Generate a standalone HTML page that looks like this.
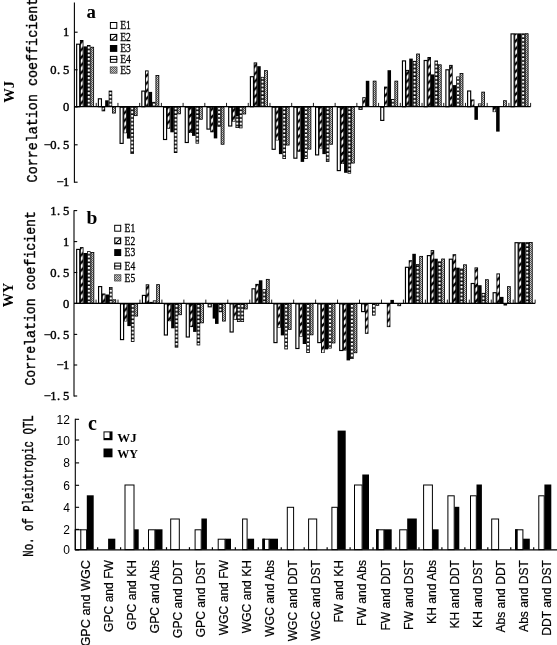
<!DOCTYPE html>
<html><head><meta charset="utf-8"><title>Figure</title>
<style>
html,body{margin:0;padding:0;background:#fff;}
svg{display:block;}
.mono{font-family:"Liberation Mono",monospace;}
.sans{font-family:"Liberation Sans",sans-serif;}
.serif{font-family:"Liberation Serif",serif;}
.bs{font-family:"Liberation Serif",serif;font-weight:bold;}
.tk{stroke:#000;stroke-width:0.4;}
.ml{stroke:#000;stroke-width:0.4;}
.lg{stroke:#000;stroke-width:0.3;}
.xl{stroke:#000;stroke-width:0.2;}
</style></head><body>
<svg width="557" height="645" viewBox="0 0 557 645">
<defs>
<pattern id="p2" patternUnits="userSpaceOnUse" width="7.6" height="7.6">
<rect width="7.6" height="7.6" fill="#000"/>
<path d="M-1.9,7.6 L7.6,-1.9 M-1.9,15.2 L15.2,-1.9 M-1.9,0 L0,-1.9" stroke="#fff" stroke-width="3.1"/>
</pattern>
<pattern id="p4" patternUnits="userSpaceOnUse" width="10" height="3.8">
<rect width="10" height="3.8" fill="#000"/>
<rect x="0" y="0.9" width="10" height="2.3" fill="#fff"/>
</pattern>
<pattern id="p5" patternUnits="userSpaceOnUse" width="2" height="2">
<rect width="2" height="2" fill="#cdcdcd"/>
<rect x="0" y="0" width="1" height="1" fill="#5c5c5c"/>
<rect x="1" y="1" width="1" height="1" fill="#5c5c5c"/>
</pattern>
</defs>
<rect width="557" height="645" fill="#fff"/>

<g id="barsA">
<rect x="76.65" y="44.20" width="3.07" height="62.50" fill="#fff" stroke="#000" stroke-width="1.15"/>
<rect x="79.92" y="40.00" width="3.52" height="66.70" fill="#000"/>
<rect x="80.82" y="41.00" width="1.82" height="65.20" fill="url(#p2)"/>
<rect x="83.44" y="46.40" width="3.52" height="60.30" fill="#000"/>
<rect x="86.96" y="45.00" width="3.52" height="61.70" fill="#000"/>
<rect x="87.76" y="45.80" width="2.02" height="60.10" fill="url(#p4)"/>
<rect x="90.48" y="46.90" width="3.52" height="59.80" fill="url(#p5)"/>
<rect x="90.83" y="47.25" width="2.82" height="59.30" fill="none" stroke="#000" stroke-width="0.8"/>
<rect x="98.37" y="98.80" width="3.07" height="7.90" fill="#fff" stroke="#000" stroke-width="1.15"/>
<rect x="101.64" y="106.70" width="3.52" height="4.60" fill="#000"/>
<rect x="102.54" y="107.70" width="1.82" height="3.10" fill="url(#p2)"/>
<rect x="105.16" y="100.30" width="3.52" height="6.40" fill="#000"/>
<rect x="108.68" y="90.60" width="3.52" height="16.10" fill="#000"/>
<rect x="109.48" y="91.40" width="2.02" height="14.50" fill="url(#p4)"/>
<rect x="112.20" y="106.70" width="3.52" height="6.50" fill="url(#p5)"/>
<rect x="112.55" y="107.05" width="2.82" height="6.00" fill="none" stroke="#000" stroke-width="0.8"/>
<rect x="120.09" y="107.20" width="3.07" height="36.20" fill="#fff" stroke="#000" stroke-width="1.15"/>
<rect x="123.36" y="106.70" width="3.52" height="26.50" fill="#000"/>
<rect x="124.26" y="107.70" width="1.82" height="25.00" fill="url(#p2)"/>
<rect x="126.88" y="106.70" width="3.52" height="31.90" fill="#000"/>
<rect x="130.40" y="106.70" width="3.52" height="47.20" fill="#000"/>
<rect x="131.20" y="107.50" width="2.02" height="45.60" fill="url(#p4)"/>
<rect x="133.92" y="106.70" width="3.52" height="9.10" fill="url(#p5)"/>
<rect x="134.27" y="107.05" width="2.82" height="8.60" fill="none" stroke="#000" stroke-width="0.8"/>
<rect x="141.81" y="91.10" width="3.07" height="15.60" fill="#fff" stroke="#000" stroke-width="1.15"/>
<rect x="145.08" y="70.40" width="3.52" height="36.30" fill="#000"/>
<rect x="145.98" y="71.40" width="1.82" height="34.80" fill="url(#p2)"/>
<rect x="148.60" y="91.90" width="3.52" height="14.80" fill="#000"/>
<rect x="152.12" y="101.90" width="3.52" height="4.80" fill="#000"/>
<rect x="152.92" y="102.70" width="2.02" height="3.20" fill="url(#p4)"/>
<rect x="155.64" y="75.20" width="3.52" height="31.50" fill="url(#p5)"/>
<rect x="155.99" y="75.55" width="2.82" height="31.00" fill="none" stroke="#000" stroke-width="0.8"/>
<rect x="163.53" y="107.20" width="3.07" height="32.30" fill="#fff" stroke="#000" stroke-width="1.15"/>
<rect x="166.80" y="106.70" width="3.52" height="22.00" fill="#000"/>
<rect x="167.70" y="107.70" width="1.82" height="20.50" fill="url(#p2)"/>
<rect x="170.32" y="106.70" width="3.52" height="25.60" fill="#000"/>
<rect x="173.84" y="106.70" width="3.52" height="46.30" fill="#000"/>
<rect x="174.64" y="107.50" width="2.02" height="44.70" fill="url(#p4)"/>
<rect x="177.36" y="106.70" width="3.52" height="7.30" fill="url(#p5)"/>
<rect x="177.71" y="107.05" width="2.82" height="6.80" fill="none" stroke="#000" stroke-width="0.8"/>
<rect x="185.25" y="107.20" width="3.07" height="35.30" fill="#fff" stroke="#000" stroke-width="1.15"/>
<rect x="188.52" y="106.70" width="3.52" height="26.30" fill="#000"/>
<rect x="189.42" y="107.70" width="1.82" height="24.80" fill="url(#p2)"/>
<rect x="192.04" y="106.70" width="3.52" height="29.20" fill="#000"/>
<rect x="195.56" y="106.70" width="3.52" height="36.90" fill="#000"/>
<rect x="196.36" y="107.50" width="2.02" height="35.30" fill="url(#p4)"/>
<rect x="199.08" y="106.70" width="3.52" height="12.70" fill="url(#p5)"/>
<rect x="199.43" y="107.05" width="2.82" height="12.20" fill="none" stroke="#000" stroke-width="0.8"/>
<rect x="206.97" y="107.20" width="3.07" height="21.90" fill="#fff" stroke="#000" stroke-width="1.15"/>
<rect x="210.24" y="106.70" width="3.52" height="25.60" fill="#000"/>
<rect x="211.14" y="107.70" width="1.82" height="24.10" fill="url(#p2)"/>
<rect x="213.76" y="106.70" width="3.52" height="31.70" fill="#000"/>
<rect x="217.28" y="106.70" width="3.52" height="20.00" fill="#000"/>
<rect x="218.08" y="107.50" width="2.02" height="18.40" fill="url(#p4)"/>
<rect x="220.80" y="106.70" width="3.52" height="37.70" fill="url(#p5)"/>
<rect x="221.15" y="107.05" width="2.82" height="37.20" fill="none" stroke="#000" stroke-width="0.8"/>
<rect x="228.69" y="107.20" width="3.07" height="18.80" fill="#fff" stroke="#000" stroke-width="1.15"/>
<rect x="231.96" y="106.70" width="3.52" height="15.00" fill="#000"/>
<rect x="232.86" y="107.70" width="1.82" height="13.50" fill="url(#p2)"/>
<rect x="235.48" y="106.70" width="3.52" height="21.30" fill="#000"/>
<rect x="236.28" y="107.50" width="2.02" height="19.70" fill="url(#p4)"/>
<rect x="235.48" y="106.70" width="3.52" height="9.60" fill="#000"/>
<rect x="239.00" y="106.70" width="3.52" height="21.60" fill="#000"/>
<rect x="239.80" y="107.50" width="2.02" height="20.00" fill="url(#p4)"/>
<rect x="242.52" y="106.70" width="3.52" height="7.40" fill="url(#p5)"/>
<rect x="242.87" y="107.05" width="2.82" height="6.90" fill="none" stroke="#000" stroke-width="0.8"/>
<rect x="250.41" y="76.70" width="3.07" height="30.00" fill="#fff" stroke="#000" stroke-width="1.15"/>
<rect x="253.68" y="62.40" width="3.52" height="44.30" fill="#000"/>
<rect x="254.58" y="63.40" width="1.82" height="42.80" fill="url(#p2)"/>
<rect x="257.20" y="66.20" width="3.52" height="40.50" fill="#000"/>
<rect x="260.72" y="76.90" width="3.52" height="29.80" fill="#000"/>
<rect x="261.52" y="77.70" width="2.02" height="28.20" fill="url(#p4)"/>
<rect x="264.24" y="70.30" width="3.52" height="36.40" fill="url(#p5)"/>
<rect x="264.59" y="70.65" width="2.82" height="35.90" fill="none" stroke="#000" stroke-width="0.8"/>
<rect x="272.13" y="107.20" width="3.07" height="42.10" fill="#fff" stroke="#000" stroke-width="1.15"/>
<rect x="275.40" y="106.70" width="3.52" height="33.70" fill="#000"/>
<rect x="276.30" y="107.70" width="1.82" height="32.20" fill="url(#p2)"/>
<rect x="278.92" y="106.70" width="3.52" height="47.40" fill="#000"/>
<rect x="282.44" y="106.70" width="3.52" height="52.30" fill="#000"/>
<rect x="283.24" y="107.50" width="2.02" height="50.70" fill="url(#p4)"/>
<rect x="285.96" y="106.70" width="3.52" height="38.50" fill="url(#p5)"/>
<rect x="286.31" y="107.05" width="2.82" height="38.00" fill="none" stroke="#000" stroke-width="0.8"/>
<rect x="293.85" y="107.20" width="3.07" height="51.00" fill="#fff" stroke="#000" stroke-width="1.15"/>
<rect x="297.12" y="106.70" width="3.52" height="45.00" fill="#000"/>
<rect x="298.02" y="107.70" width="1.82" height="43.50" fill="url(#p2)"/>
<rect x="300.64" y="106.70" width="3.52" height="55.20" fill="#000"/>
<rect x="304.16" y="106.70" width="3.52" height="52.30" fill="#000"/>
<rect x="304.96" y="107.50" width="2.02" height="50.70" fill="url(#p4)"/>
<rect x="307.68" y="106.70" width="3.52" height="42.60" fill="url(#p5)"/>
<rect x="308.03" y="107.05" width="2.82" height="42.10" fill="none" stroke="#000" stroke-width="0.8"/>
<rect x="315.57" y="107.20" width="3.07" height="47.70" fill="#fff" stroke="#000" stroke-width="1.15"/>
<rect x="318.84" y="106.70" width="3.52" height="41.80" fill="#000"/>
<rect x="319.74" y="107.70" width="1.82" height="40.30" fill="url(#p2)"/>
<rect x="322.36" y="106.70" width="3.52" height="47.40" fill="#000"/>
<rect x="325.88" y="106.70" width="3.52" height="55.20" fill="#000"/>
<rect x="326.68" y="107.50" width="2.02" height="53.60" fill="url(#p4)"/>
<rect x="329.40" y="106.70" width="3.52" height="37.70" fill="url(#p5)"/>
<rect x="329.75" y="107.05" width="2.82" height="37.20" fill="none" stroke="#000" stroke-width="0.8"/>
<rect x="337.29" y="107.20" width="3.07" height="63.40" fill="#fff" stroke="#000" stroke-width="1.15"/>
<rect x="340.56" y="106.70" width="3.52" height="57.30" fill="#000"/>
<rect x="341.46" y="107.70" width="1.82" height="55.80" fill="url(#p2)"/>
<rect x="344.08" y="106.70" width="3.52" height="66.10" fill="#000"/>
<rect x="347.60" y="106.70" width="3.52" height="66.90" fill="#000"/>
<rect x="348.40" y="107.50" width="2.02" height="65.30" fill="url(#p4)"/>
<rect x="351.12" y="106.70" width="3.52" height="56.50" fill="url(#p5)"/>
<rect x="351.47" y="107.05" width="2.82" height="56.00" fill="none" stroke="#000" stroke-width="0.8"/>
<rect x="359.01" y="107.20" width="3.07" height="2.10" fill="#fff" stroke="#000" stroke-width="1.15"/>
<rect x="362.28" y="97.20" width="3.52" height="9.50" fill="#000"/>
<rect x="363.18" y="98.20" width="1.82" height="8.00" fill="url(#p2)"/>
<rect x="365.80" y="80.80" width="3.52" height="25.90" fill="#000"/>
<rect x="372.84" y="80.80" width="3.52" height="25.90" fill="url(#p5)"/>
<rect x="373.19" y="81.15" width="2.82" height="25.40" fill="none" stroke="#000" stroke-width="0.8"/>
<rect x="380.73" y="107.20" width="3.07" height="13.20" fill="#fff" stroke="#000" stroke-width="1.15"/>
<rect x="384.00" y="86.60" width="3.52" height="20.10" fill="#000"/>
<rect x="384.90" y="87.60" width="1.82" height="18.60" fill="url(#p2)"/>
<rect x="387.52" y="70.20" width="3.52" height="36.50" fill="#000"/>
<rect x="391.04" y="99.00" width="3.52" height="7.70" fill="#000"/>
<rect x="391.84" y="99.80" width="2.02" height="6.10" fill="url(#p4)"/>
<rect x="394.56" y="80.80" width="3.52" height="25.90" fill="url(#p5)"/>
<rect x="394.91" y="81.15" width="2.82" height="25.40" fill="none" stroke="#000" stroke-width="0.8"/>
<rect x="402.45" y="60.90" width="3.07" height="45.80" fill="#fff" stroke="#000" stroke-width="1.15"/>
<rect x="405.72" y="69.90" width="3.52" height="36.80" fill="#000"/>
<rect x="406.62" y="70.90" width="1.82" height="35.30" fill="url(#p2)"/>
<rect x="409.24" y="58.60" width="3.52" height="48.10" fill="#000"/>
<rect x="412.76" y="60.90" width="3.52" height="45.80" fill="#000"/>
<rect x="413.56" y="61.70" width="2.02" height="44.20" fill="url(#p4)"/>
<rect x="416.28" y="53.70" width="3.52" height="53.00" fill="url(#p5)"/>
<rect x="416.63" y="54.05" width="2.82" height="52.50" fill="none" stroke="#000" stroke-width="0.8"/>
<rect x="424.17" y="60.50" width="3.07" height="46.20" fill="#fff" stroke="#000" stroke-width="1.15"/>
<rect x="427.44" y="57.00" width="3.52" height="49.70" fill="#000"/>
<rect x="428.34" y="58.00" width="1.82" height="48.20" fill="url(#p2)"/>
<rect x="430.96" y="74.40" width="3.52" height="32.30" fill="#000"/>
<rect x="434.48" y="60.50" width="3.52" height="46.20" fill="#000"/>
<rect x="435.28" y="61.30" width="2.02" height="44.60" fill="url(#p4)"/>
<rect x="438.00" y="64.50" width="3.52" height="42.20" fill="url(#p5)"/>
<rect x="438.35" y="64.85" width="2.82" height="41.70" fill="none" stroke="#000" stroke-width="0.8"/>
<rect x="445.89" y="69.80" width="3.07" height="36.90" fill="#fff" stroke="#000" stroke-width="1.15"/>
<rect x="449.16" y="64.90" width="3.52" height="41.80" fill="#000"/>
<rect x="450.06" y="65.90" width="1.82" height="40.30" fill="url(#p2)"/>
<rect x="452.68" y="85.10" width="3.52" height="21.60" fill="#000"/>
<rect x="456.20" y="76.50" width="3.52" height="30.20" fill="#000"/>
<rect x="457.00" y="77.30" width="2.02" height="28.60" fill="url(#p4)"/>
<rect x="459.72" y="73.10" width="3.52" height="33.60" fill="url(#p5)"/>
<rect x="460.07" y="73.45" width="2.82" height="33.10" fill="none" stroke="#000" stroke-width="0.8"/>
<rect x="467.61" y="91.00" width="3.07" height="15.70" fill="#fff" stroke="#000" stroke-width="1.15"/>
<rect x="470.88" y="99.50" width="3.52" height="7.20" fill="#000"/>
<rect x="471.78" y="100.50" width="1.82" height="5.70" fill="url(#p2)"/>
<rect x="474.40" y="106.70" width="3.52" height="13.10" fill="#000"/>
<rect x="477.92" y="103.50" width="3.52" height="3.20" fill="#000"/>
<rect x="478.72" y="104.30" width="2.02" height="1.60" fill="url(#p4)"/>
<rect x="481.44" y="91.80" width="3.52" height="14.90" fill="url(#p5)"/>
<rect x="481.79" y="92.15" width="2.82" height="14.40" fill="none" stroke="#000" stroke-width="0.8"/>
<rect x="492.60" y="106.70" width="3.52" height="5.40" fill="#000"/>
<rect x="493.50" y="107.70" width="1.82" height="3.90" fill="url(#p2)"/>
<rect x="496.12" y="106.70" width="3.52" height="24.90" fill="#000"/>
<rect x="503.16" y="100.40" width="3.52" height="6.30" fill="url(#p5)"/>
<rect x="503.51" y="100.75" width="2.82" height="5.80" fill="none" stroke="#000" stroke-width="0.8"/>
<rect x="511.05" y="33.90" width="3.07" height="72.80" fill="#fff" stroke="#000" stroke-width="1.15"/>
<rect x="514.32" y="33.40" width="3.52" height="73.30" fill="#000"/>
<rect x="515.22" y="34.40" width="1.82" height="71.80" fill="url(#p2)"/>
<rect x="517.84" y="33.40" width="3.52" height="73.30" fill="#000"/>
<rect x="521.36" y="33.40" width="3.52" height="73.30" fill="#000"/>
<rect x="522.16" y="34.20" width="2.02" height="71.70" fill="url(#p4)"/>
<rect x="524.88" y="33.40" width="3.52" height="73.30" fill="url(#p5)"/>
<rect x="525.23" y="33.75" width="2.82" height="72.80" fill="none" stroke="#000" stroke-width="0.8"/>
</g>
<g id="axisA" stroke="#000" stroke-width="1.1" fill="none">
<line x1="74.4" y1="2.5" x2="74.4" y2="182.7"/>
<line x1="74.4" y1="106.7" x2="530.62" y2="106.7" stroke-width="1.3"/>
<line x1="96.22" y1="106.7" x2="96.22" y2="102.9" stroke-width="0.9"/>
<line x1="117.94" y1="106.7" x2="117.94" y2="102.9" stroke-width="0.9"/>
<line x1="139.66" y1="106.7" x2="139.66" y2="102.9" stroke-width="0.9"/>
<line x1="161.38" y1="106.7" x2="161.38" y2="102.9" stroke-width="0.9"/>
<line x1="183.10" y1="106.7" x2="183.10" y2="102.9" stroke-width="0.9"/>
<line x1="204.82" y1="106.7" x2="204.82" y2="102.9" stroke-width="0.9"/>
<line x1="226.54" y1="106.7" x2="226.54" y2="102.9" stroke-width="0.9"/>
<line x1="248.26" y1="106.7" x2="248.26" y2="102.9" stroke-width="0.9"/>
<line x1="269.98" y1="106.7" x2="269.98" y2="102.9" stroke-width="0.9"/>
<line x1="291.70" y1="106.7" x2="291.70" y2="102.9" stroke-width="0.9"/>
<line x1="313.42" y1="106.7" x2="313.42" y2="102.9" stroke-width="0.9"/>
<line x1="335.14" y1="106.7" x2="335.14" y2="102.9" stroke-width="0.9"/>
<line x1="356.86" y1="106.7" x2="356.86" y2="102.9" stroke-width="0.9"/>
<line x1="378.58" y1="106.7" x2="378.58" y2="102.9" stroke-width="0.9"/>
<line x1="400.30" y1="106.7" x2="400.30" y2="102.9" stroke-width="0.9"/>
<line x1="422.02" y1="106.7" x2="422.02" y2="102.9" stroke-width="0.9"/>
<line x1="443.74" y1="106.7" x2="443.74" y2="102.9" stroke-width="0.9"/>
<line x1="465.46" y1="106.7" x2="465.46" y2="102.9" stroke-width="0.9"/>
<line x1="487.18" y1="106.7" x2="487.18" y2="102.9" stroke-width="0.9"/>
<line x1="508.90" y1="106.7" x2="508.90" y2="102.9" stroke-width="0.9"/>
<line x1="530.62" y1="106.7" x2="530.62" y2="102.9" stroke-width="0.9"/>
<line x1="74.4" y1="32.2" x2="77.60000000000001" y2="32.2"/>
<line x1="74.4" y1="69.8" x2="77.60000000000001" y2="69.8"/>
<line x1="74.4" y1="107" x2="77.60000000000001" y2="107"/>
<line x1="74.4" y1="144.8" x2="77.60000000000001" y2="144.8"/>
<line x1="74.4" y1="182.2" x2="77.60000000000001" y2="182.2"/>
</g>
<text class="serif tk" x="66.1" y="36.4" font-size="12.6" text-anchor="middle">1</text>
<text class="serif tk" x="53.3 58.5 66.1" y="74.0" font-size="12.6" text-anchor="middle">0.5</text>
<text class="serif tk" x="66.1" y="111.2" font-size="12.6" text-anchor="middle">0</text>
<text class="serif tk" x="47.2 53.3 58.5 66.1" y="149.0" font-size="12.6" text-anchor="middle">−0.5</text>
<text class="serif tk" x="60.0 66.1" y="186.4" font-size="12.6" text-anchor="middle">−1</text>
<g id="barsB">
<rect x="76.65" y="249.40" width="3.10" height="54.00" fill="#fff" stroke="#000" stroke-width="1.15"/>
<rect x="79.95" y="247.10" width="3.55" height="56.30" fill="#000"/>
<rect x="80.85" y="248.10" width="1.85" height="54.80" fill="url(#p2)"/>
<rect x="83.50" y="253.00" width="3.55" height="50.40" fill="#000"/>
<rect x="87.05" y="251.20" width="3.55" height="52.20" fill="#000"/>
<rect x="87.85" y="252.00" width="2.05" height="50.60" fill="url(#p4)"/>
<rect x="90.60" y="252.10" width="3.55" height="51.30" fill="url(#p5)"/>
<rect x="90.95" y="252.45" width="2.85" height="50.80" fill="none" stroke="#000" stroke-width="0.8"/>
<rect x="98.57" y="286.60" width="3.10" height="16.80" fill="#fff" stroke="#000" stroke-width="1.15"/>
<rect x="101.87" y="293.50" width="3.55" height="9.90" fill="#000"/>
<rect x="102.77" y="294.50" width="1.85" height="8.40" fill="url(#p2)"/>
<rect x="105.42" y="294.50" width="3.55" height="8.90" fill="#000"/>
<rect x="108.97" y="287.00" width="3.55" height="16.40" fill="#000"/>
<rect x="109.77" y="287.80" width="2.05" height="14.80" fill="url(#p4)"/>
<rect x="112.52" y="299.50" width="3.55" height="3.90" fill="url(#p5)"/>
<rect x="112.87" y="299.85" width="2.85" height="3.40" fill="none" stroke="#000" stroke-width="0.8"/>
<rect x="120.49" y="303.90" width="3.10" height="35.70" fill="#fff" stroke="#000" stroke-width="1.15"/>
<rect x="123.79" y="303.40" width="3.55" height="18.00" fill="#000"/>
<rect x="124.69" y="304.40" width="1.85" height="16.50" fill="url(#p2)"/>
<rect x="127.34" y="303.40" width="3.55" height="22.70" fill="#000"/>
<rect x="130.89" y="303.40" width="3.55" height="38.50" fill="#000"/>
<rect x="131.69" y="304.20" width="2.05" height="36.90" fill="url(#p4)"/>
<rect x="134.44" y="303.40" width="3.55" height="12.80" fill="url(#p5)"/>
<rect x="134.79" y="303.75" width="2.85" height="12.30" fill="none" stroke="#000" stroke-width="0.8"/>
<rect x="142.41" y="295.40" width="3.10" height="8.00" fill="#fff" stroke="#000" stroke-width="1.15"/>
<rect x="145.71" y="284.30" width="3.55" height="19.10" fill="#000"/>
<rect x="146.61" y="285.30" width="1.85" height="17.60" fill="url(#p2)"/>
<rect x="149.26" y="301.90" width="3.55" height="1.50" fill="#000"/>
<rect x="152.81" y="300.40" width="3.55" height="3.00" fill="#000"/>
<rect x="153.61" y="301.20" width="2.05" height="1.40" fill="url(#p4)"/>
<rect x="156.36" y="284.30" width="3.55" height="19.10" fill="url(#p5)"/>
<rect x="156.71" y="284.65" width="2.85" height="18.60" fill="none" stroke="#000" stroke-width="0.8"/>
<rect x="164.33" y="303.90" width="3.10" height="31.10" fill="#fff" stroke="#000" stroke-width="1.15"/>
<rect x="167.63" y="303.40" width="3.55" height="17.80" fill="#000"/>
<rect x="168.53" y="304.40" width="1.85" height="16.30" fill="url(#p2)"/>
<rect x="171.18" y="303.40" width="3.55" height="24.90" fill="#000"/>
<rect x="174.73" y="303.40" width="3.55" height="44.20" fill="#000"/>
<rect x="175.53" y="304.20" width="2.05" height="42.60" fill="url(#p4)"/>
<rect x="178.28" y="303.40" width="3.55" height="11.50" fill="url(#p5)"/>
<rect x="178.63" y="303.75" width="2.85" height="11.00" fill="none" stroke="#000" stroke-width="0.8"/>
<rect x="186.25" y="303.90" width="3.10" height="33.10" fill="#fff" stroke="#000" stroke-width="1.15"/>
<rect x="189.55" y="303.40" width="3.55" height="23.70" fill="#000"/>
<rect x="190.45" y="304.40" width="1.85" height="22.20" fill="url(#p2)"/>
<rect x="193.10" y="303.40" width="3.55" height="28.50" fill="#000"/>
<rect x="196.65" y="303.40" width="3.55" height="42.00" fill="#000"/>
<rect x="197.45" y="304.20" width="2.05" height="40.40" fill="url(#p4)"/>
<rect x="200.20" y="303.40" width="3.55" height="19.60" fill="url(#p5)"/>
<rect x="200.55" y="303.75" width="2.85" height="19.10" fill="none" stroke="#000" stroke-width="0.8"/>
<rect x="208.17" y="303.90" width="3.10" height="2.90" fill="#fff" stroke="#000" stroke-width="1.15"/>
<rect x="212.67" y="303.40" width="2.35" height="15.20" fill="#000"/>
<rect x="215.02" y="303.40" width="3.55" height="20.50" fill="#000"/>
<rect x="218.57" y="303.40" width="3.55" height="8.80" fill="#000"/>
<rect x="219.37" y="304.20" width="2.05" height="7.20" fill="url(#p4)"/>
<rect x="222.12" y="303.40" width="3.55" height="17.80" fill="url(#p5)"/>
<rect x="222.47" y="303.75" width="2.85" height="17.30" fill="none" stroke="#000" stroke-width="0.8"/>
<rect x="230.09" y="303.90" width="3.10" height="28.10" fill="#fff" stroke="#000" stroke-width="1.15"/>
<rect x="233.39" y="303.40" width="3.55" height="16.50" fill="#000"/>
<rect x="234.29" y="304.40" width="1.85" height="15.00" fill="url(#p2)"/>
<rect x="236.94" y="303.40" width="3.55" height="18.60" fill="#000"/>
<rect x="237.74" y="304.20" width="2.05" height="17.00" fill="url(#p4)"/>
<rect x="240.49" y="303.40" width="3.55" height="18.60" fill="#000"/>
<rect x="241.29" y="304.20" width="2.05" height="17.00" fill="url(#p4)"/>
<rect x="244.04" y="303.40" width="3.55" height="5.70" fill="url(#p5)"/>
<rect x="244.39" y="303.75" width="2.85" height="5.20" fill="none" stroke="#000" stroke-width="0.8"/>
<rect x="252.01" y="288.80" width="3.10" height="14.60" fill="#fff" stroke="#000" stroke-width="1.15"/>
<rect x="255.31" y="283.90" width="3.55" height="19.50" fill="#000"/>
<rect x="256.21" y="284.90" width="1.85" height="18.00" fill="url(#p2)"/>
<rect x="258.86" y="280.30" width="3.55" height="23.10" fill="#000"/>
<rect x="262.41" y="289.20" width="3.55" height="14.20" fill="#000"/>
<rect x="263.21" y="290.00" width="2.05" height="12.60" fill="url(#p4)"/>
<rect x="265.96" y="279.00" width="3.55" height="24.40" fill="url(#p5)"/>
<rect x="266.31" y="279.35" width="2.85" height="23.90" fill="none" stroke="#000" stroke-width="0.8"/>
<rect x="273.93" y="303.90" width="3.10" height="38.70" fill="#fff" stroke="#000" stroke-width="1.15"/>
<rect x="277.23" y="303.40" width="3.55" height="24.40" fill="#000"/>
<rect x="278.13" y="304.40" width="1.85" height="22.90" fill="url(#p2)"/>
<rect x="280.78" y="303.40" width="3.55" height="32.00" fill="#000"/>
<rect x="284.33" y="303.40" width="3.55" height="46.00" fill="#000"/>
<rect x="285.13" y="304.20" width="2.05" height="44.40" fill="url(#p4)"/>
<rect x="287.88" y="303.40" width="3.55" height="26.20" fill="url(#p5)"/>
<rect x="288.23" y="303.75" width="2.85" height="25.70" fill="none" stroke="#000" stroke-width="0.8"/>
<rect x="295.85" y="303.90" width="3.10" height="44.60" fill="#fff" stroke="#000" stroke-width="1.15"/>
<rect x="299.15" y="303.40" width="3.55" height="33.40" fill="#000"/>
<rect x="300.05" y="304.40" width="1.85" height="31.90" fill="url(#p2)"/>
<rect x="302.70" y="303.40" width="3.55" height="40.60" fill="#000"/>
<rect x="306.25" y="303.40" width="3.55" height="49.60" fill="#000"/>
<rect x="307.05" y="304.20" width="2.05" height="48.00" fill="url(#p4)"/>
<rect x="309.80" y="303.40" width="3.55" height="31.60" fill="url(#p5)"/>
<rect x="310.15" y="303.75" width="2.85" height="31.10" fill="none" stroke="#000" stroke-width="0.8"/>
<rect x="317.77" y="303.90" width="3.10" height="38.70" fill="#fff" stroke="#000" stroke-width="1.15"/>
<rect x="321.07" y="303.40" width="3.55" height="49.60" fill="#000"/>
<rect x="321.97" y="304.40" width="1.85" height="48.10" fill="url(#p2)"/>
<rect x="324.62" y="303.40" width="3.55" height="46.00" fill="#000"/>
<rect x="328.17" y="303.40" width="3.55" height="45.10" fill="#000"/>
<rect x="328.97" y="304.20" width="2.05" height="43.50" fill="url(#p4)"/>
<rect x="331.72" y="303.40" width="3.55" height="39.70" fill="url(#p5)"/>
<rect x="332.07" y="303.75" width="2.85" height="39.20" fill="none" stroke="#000" stroke-width="0.8"/>
<rect x="339.69" y="303.90" width="3.10" height="46.60" fill="#fff" stroke="#000" stroke-width="1.15"/>
<rect x="342.99" y="303.40" width="3.55" height="47.10" fill="#000"/>
<rect x="343.89" y="304.40" width="1.85" height="45.60" fill="url(#p2)"/>
<rect x="346.54" y="303.40" width="3.55" height="57.00" fill="#000"/>
<rect x="350.09" y="303.40" width="3.55" height="55.60" fill="#000"/>
<rect x="350.89" y="304.20" width="2.05" height="54.00" fill="url(#p4)"/>
<rect x="353.64" y="303.40" width="3.55" height="49.50" fill="url(#p5)"/>
<rect x="353.99" y="303.75" width="2.85" height="49.00" fill="none" stroke="#000" stroke-width="0.8"/>
<rect x="361.61" y="303.90" width="3.10" height="7.70" fill="#fff" stroke="#000" stroke-width="1.15"/>
<rect x="364.91" y="303.40" width="3.55" height="30.40" fill="#000"/>
<rect x="365.81" y="304.40" width="1.85" height="28.90" fill="url(#p2)"/>
<rect x="372.01" y="303.40" width="3.55" height="12.20" fill="#000"/>
<rect x="372.81" y="304.20" width="2.05" height="10.60" fill="url(#p4)"/>
<rect x="375.56" y="303.40" width="3.55" height="2.10" fill="url(#p5)"/>
<rect x="375.91" y="303.75" width="2.85" height="1.60" fill="none" stroke="#000" stroke-width="0.8"/>
<rect x="386.83" y="303.40" width="3.55" height="23.70" fill="#000"/>
<rect x="387.73" y="304.40" width="1.85" height="22.20" fill="url(#p2)"/>
<rect x="390.38" y="299.90" width="3.55" height="3.50" fill="#000"/>
<rect x="397.48" y="303.40" width="3.55" height="2.50" fill="url(#p5)"/>
<rect x="397.83" y="303.75" width="2.85" height="2.00" fill="none" stroke="#000" stroke-width="0.8"/>
<rect x="405.45" y="267.30" width="3.10" height="36.10" fill="#fff" stroke="#000" stroke-width="1.15"/>
<rect x="408.75" y="260.20" width="3.55" height="43.20" fill="#000"/>
<rect x="409.65" y="261.20" width="1.85" height="41.70" fill="url(#p2)"/>
<rect x="412.30" y="253.80" width="3.55" height="49.60" fill="#000"/>
<rect x="415.85" y="264.10" width="3.55" height="39.30" fill="#000"/>
<rect x="416.65" y="264.90" width="2.05" height="37.70" fill="url(#p4)"/>
<rect x="419.40" y="256.00" width="3.55" height="47.40" fill="url(#p5)"/>
<rect x="419.75" y="256.35" width="2.85" height="46.90" fill="none" stroke="#000" stroke-width="0.8"/>
<rect x="427.37" y="255.60" width="3.10" height="47.80" fill="#fff" stroke="#000" stroke-width="1.15"/>
<rect x="430.67" y="250.10" width="3.55" height="53.30" fill="#000"/>
<rect x="431.57" y="251.10" width="1.85" height="51.80" fill="url(#p2)"/>
<rect x="434.22" y="258.70" width="3.55" height="44.70" fill="#000"/>
<rect x="437.77" y="261.40" width="3.55" height="42.00" fill="#000"/>
<rect x="438.57" y="262.20" width="2.05" height="40.40" fill="url(#p4)"/>
<rect x="441.32" y="258.70" width="3.55" height="44.70" fill="url(#p5)"/>
<rect x="441.67" y="259.05" width="2.85" height="44.20" fill="none" stroke="#000" stroke-width="0.8"/>
<rect x="449.29" y="259.20" width="3.10" height="44.20" fill="#fff" stroke="#000" stroke-width="1.15"/>
<rect x="452.59" y="254.20" width="3.55" height="49.20" fill="#000"/>
<rect x="453.49" y="255.20" width="1.85" height="47.70" fill="url(#p2)"/>
<rect x="456.14" y="267.70" width="3.55" height="35.70" fill="#000"/>
<rect x="459.69" y="268.60" width="3.55" height="34.80" fill="#000"/>
<rect x="460.49" y="269.40" width="2.05" height="33.20" fill="url(#p4)"/>
<rect x="463.24" y="264.50" width="3.55" height="38.90" fill="url(#p5)"/>
<rect x="463.59" y="264.85" width="2.85" height="38.40" fill="none" stroke="#000" stroke-width="0.8"/>
<rect x="471.21" y="283.50" width="3.10" height="19.90" fill="#fff" stroke="#000" stroke-width="1.15"/>
<rect x="474.51" y="267.40" width="3.55" height="36.00" fill="#000"/>
<rect x="475.41" y="268.40" width="1.85" height="34.50" fill="url(#p2)"/>
<rect x="478.06" y="285.20" width="3.55" height="18.20" fill="#000"/>
<rect x="481.61" y="292.90" width="3.55" height="10.50" fill="#000"/>
<rect x="482.41" y="293.70" width="2.05" height="8.90" fill="url(#p4)"/>
<rect x="485.16" y="279.40" width="3.55" height="24.00" fill="url(#p5)"/>
<rect x="485.51" y="279.75" width="2.85" height="23.50" fill="none" stroke="#000" stroke-width="0.8"/>
<rect x="493.13" y="292.70" width="3.10" height="10.70" fill="#fff" stroke="#000" stroke-width="1.15"/>
<rect x="496.43" y="273.40" width="3.55" height="30.00" fill="#000"/>
<rect x="497.33" y="274.40" width="1.85" height="28.50" fill="url(#p2)"/>
<rect x="499.98" y="296.90" width="3.55" height="6.50" fill="#000"/>
<rect x="503.53" y="303.40" width="3.55" height="2.10" fill="#000"/>
<rect x="504.33" y="304.20" width="2.05" height="0.50" fill="url(#p4)"/>
<rect x="507.08" y="286.30" width="3.55" height="17.10" fill="url(#p5)"/>
<rect x="507.43" y="286.65" width="2.85" height="16.60" fill="none" stroke="#000" stroke-width="0.8"/>
<rect x="515.05" y="242.70" width="3.10" height="60.70" fill="#fff" stroke="#000" stroke-width="1.15"/>
<rect x="518.35" y="242.20" width="3.55" height="61.20" fill="#000"/>
<rect x="519.25" y="243.20" width="1.85" height="59.70" fill="url(#p2)"/>
<rect x="521.90" y="242.20" width="3.55" height="61.20" fill="#000"/>
<rect x="525.45" y="242.20" width="3.55" height="61.20" fill="#000"/>
<rect x="526.25" y="243.00" width="2.05" height="59.60" fill="url(#p4)"/>
<rect x="529.00" y="242.20" width="3.55" height="61.20" fill="url(#p5)"/>
<rect x="529.35" y="242.55" width="2.85" height="60.70" fill="none" stroke="#000" stroke-width="0.8"/>
</g>
<g id="axisB" stroke="#000" stroke-width="1.1" fill="none">
<line x1="74.0" y1="210.2" x2="74.0" y2="396.5"/>
<line x1="74.0" y1="303.4" x2="535.15" y2="303.4" stroke-width="1.3"/>
<line x1="96.05" y1="303.4" x2="96.05" y2="299.59999999999997" stroke-width="0.9"/>
<line x1="118.01" y1="303.4" x2="118.01" y2="299.59999999999997" stroke-width="0.9"/>
<line x1="139.96" y1="303.4" x2="139.96" y2="299.59999999999997" stroke-width="0.9"/>
<line x1="161.92" y1="303.4" x2="161.92" y2="299.59999999999997" stroke-width="0.9"/>
<line x1="183.88" y1="303.4" x2="183.88" y2="299.59999999999997" stroke-width="0.9"/>
<line x1="205.83" y1="303.4" x2="205.83" y2="299.59999999999997" stroke-width="0.9"/>
<line x1="227.78" y1="303.4" x2="227.78" y2="299.59999999999997" stroke-width="0.9"/>
<line x1="249.74" y1="303.4" x2="249.74" y2="299.59999999999997" stroke-width="0.9"/>
<line x1="271.69" y1="303.4" x2="271.69" y2="299.59999999999997" stroke-width="0.9"/>
<line x1="293.65" y1="303.4" x2="293.65" y2="299.59999999999997" stroke-width="0.9"/>
<line x1="315.61" y1="303.4" x2="315.61" y2="299.59999999999997" stroke-width="0.9"/>
<line x1="337.56" y1="303.4" x2="337.56" y2="299.59999999999997" stroke-width="0.9"/>
<line x1="359.51" y1="303.4" x2="359.51" y2="299.59999999999997" stroke-width="0.9"/>
<line x1="381.47" y1="303.4" x2="381.47" y2="299.59999999999997" stroke-width="0.9"/>
<line x1="403.42" y1="303.4" x2="403.42" y2="299.59999999999997" stroke-width="0.9"/>
<line x1="425.38" y1="303.4" x2="425.38" y2="299.59999999999997" stroke-width="0.9"/>
<line x1="447.33" y1="303.4" x2="447.33" y2="299.59999999999997" stroke-width="0.9"/>
<line x1="469.29" y1="303.4" x2="469.29" y2="299.59999999999997" stroke-width="0.9"/>
<line x1="491.25" y1="303.4" x2="491.25" y2="299.59999999999997" stroke-width="0.9"/>
<line x1="513.20" y1="303.4" x2="513.20" y2="299.59999999999997" stroke-width="0.9"/>
<line x1="535.15" y1="303.4" x2="535.15" y2="299.59999999999997" stroke-width="0.9"/>
<line x1="74.0" y1="210.6" x2="77.2" y2="210.6"/>
<line x1="74.0" y1="241.6" x2="77.2" y2="241.6"/>
<line x1="74.0" y1="272.5" x2="77.2" y2="272.5"/>
<line x1="74.0" y1="303.4" x2="77.2" y2="303.4"/>
<line x1="74.0" y1="334.4" x2="77.2" y2="334.4"/>
<line x1="74.0" y1="365" x2="77.2" y2="365"/>
<line x1="74.0" y1="396" x2="77.2" y2="396"/>
</g>
<text class="serif tk" x="53.3 58.5 66.1" y="214.8" font-size="12.6" text-anchor="middle">1.5</text>
<text class="serif tk" x="66.1" y="245.8" font-size="12.6" text-anchor="middle">1</text>
<text class="serif tk" x="53.3 58.5 66.1" y="276.7" font-size="12.6" text-anchor="middle">0.5</text>
<text class="serif tk" x="66.1" y="307.6" font-size="12.6" text-anchor="middle">0</text>
<text class="serif tk" x="47.2 53.3 58.5 66.1" y="338.6" font-size="12.6" text-anchor="middle">−0.5</text>
<text class="serif tk" x="60.0 66.1" y="369.2" font-size="12.6" text-anchor="middle">−1</text>
<text class="serif tk" x="47.2 53.3 58.5 66.1" y="400.2" font-size="12.6" text-anchor="middle">−1.5</text>
<g id="legA">
<rect x="110.4" y="22.5" width="6.4" height="5.9" fill="#fff" stroke="#000" stroke-width="1"/>
<text class="serif lg" x="120.2" y="29.1" font-size="11.5" textLength="10.6" lengthAdjust="spacingAndGlyphs">E1</text>
<rect x="109.9" y="33.9" width="7.4" height="6.9" fill="#000"/>
<path d="M111.10000000000001,39.599999999999994 L116.10000000000001,35.1 L111.10000000000001,35.1 Z" fill="#fff"/>
<path d="M112.5,39.599999999999994 L116.10000000000001,36.5 L116.10000000000001,39.599999999999994 Z" fill="#fff"/>
<text class="serif lg" x="120.2" y="41.0" font-size="11.5" textLength="10.6" lengthAdjust="spacingAndGlyphs">E2</text>
<rect x="109.9" y="45" width="7.4" height="6.9" fill="#000"/>
<text class="serif lg" x="120.2" y="52.1" font-size="11.5" textLength="10.6" lengthAdjust="spacingAndGlyphs">E3</text>
<rect x="110.4" y="56.4" width="6.4" height="5.9" fill="#fff" stroke="#000" stroke-width="1"/>
<line x1="109.9" y1="59.35" x2="117.30000000000001" y2="59.35" stroke="#000" stroke-width="1.2"/>
<text class="serif lg" x="120.2" y="63.0" font-size="11.5" textLength="10.6" lengthAdjust="spacingAndGlyphs">E4</text>
<rect x="109.9" y="66.6" width="7.4" height="6.9" fill="url(#p5)"/>
<rect x="110.30000000000001" y="67.0" width="6.6000000000000005" height="6.1000000000000005" fill="none" stroke="#555" stroke-width="0.8"/>
<text class="serif lg" x="120.2" y="73.7" font-size="11.5" textLength="10.6" lengthAdjust="spacingAndGlyphs">E5</text>
</g>
<g id="legB">
<rect x="114.7" y="225.3" width="6.0" height="5.9" fill="#fff" stroke="#000" stroke-width="1"/>
<text class="serif lg" x="124.6" y="231.9" font-size="11.5" textLength="10.6" lengthAdjust="spacingAndGlyphs">E1</text>
<rect x="114.2" y="237.4" width="7.0" height="6.9" fill="#000"/>
<path d="M115.4,243.10000000000002 L120.0,238.6 L115.4,238.6 Z" fill="#fff"/>
<path d="M116.8,243.10000000000002 L120.0,240.0 L120.0,243.10000000000002 Z" fill="#fff"/>
<text class="serif lg" x="124.6" y="244.5" font-size="11.5" textLength="10.6" lengthAdjust="spacingAndGlyphs">E2</text>
<rect x="114.2" y="249.1" width="7.0" height="6.9" fill="#000"/>
<text class="serif lg" x="124.6" y="256.2" font-size="11.5" textLength="10.6" lengthAdjust="spacingAndGlyphs">E3</text>
<rect x="114.7" y="263.1" width="6.0" height="5.9" fill="#fff" stroke="#000" stroke-width="1"/>
<line x1="114.2" y1="266.05" x2="121.2" y2="266.05" stroke="#000" stroke-width="1.2"/>
<text class="serif lg" x="124.6" y="269.7" font-size="11.5" textLength="10.6" lengthAdjust="spacingAndGlyphs">E4</text>
<rect x="114.2" y="274.4" width="7.0" height="6.9" fill="url(#p5)"/>
<rect x="114.60000000000001" y="274.79999999999995" width="6.2" height="6.1000000000000005" fill="none" stroke="#555" stroke-width="0.8"/>
<text class="serif lg" x="124.6" y="281.5" font-size="11.5" textLength="10.6" lengthAdjust="spacingAndGlyphs">E5</text>
</g>
<text class="bs" x="86.6" y="17.8" font-size="18" textLength="9.4" lengthAdjust="spacingAndGlyphs">a</text>
<text class="bs" x="86.6" y="223.5" font-size="19.5">b</text>
<text class="bs" x="87.9" y="429.5" font-size="20">c</text>
<text class="mono ml" transform="translate(36.8,182.4) rotate(-90)" font-size="15.2" textLength="184.7" lengthAdjust="spacingAndGlyphs">Correlation coefficient</text>
<text class="mono ml" transform="translate(35.2,385.6) rotate(-90)" font-size="15.2" textLength="174.6" lengthAdjust="spacingAndGlyphs">Correlation coeficient</text>
<text class="mono ml" transform="translate(32.6,556.8) rotate(-90)" font-size="15" textLength="141.6" lengthAdjust="spacingAndGlyphs">No. of Pleiotropic QTL</text>
<text class="bs" transform="translate(14.0,102.8) rotate(-90)" font-size="15.5" textLength="22" lengthAdjust="spacingAndGlyphs">WJ</text>
<text class="bs" transform="translate(13.1,307.2) rotate(-90)" font-size="15.5" textLength="24.6" lengthAdjust="spacingAndGlyphs">WY</text>
<g id="barsC">
<rect x="86.80" y="495.30" width="6.90" height="54.30" fill="#000"/>
<rect x="75.20" y="529.80" width="11.40" height="19.80" fill="#fff" stroke="#000" stroke-width="1"/>
<line x1="80.8" y1="529.3" x2="80.8" y2="549.6" stroke="#000" stroke-width="1"/>
<rect x="108.10" y="538.70" width="7.20" height="10.90" fill="#000"/>
<rect x="134.20" y="529.30" width="4.50" height="20.30" fill="#000"/>
<rect x="125.00" y="485.00" width="9.00" height="64.60" fill="#fff" stroke="#000" stroke-width="1"/>
<rect x="155.10" y="529.30" width="7.40" height="20.30" fill="#000"/>
<rect x="148.50" y="529.80" width="6.40" height="19.80" fill="#fff" stroke="#000" stroke-width="1"/>
<rect x="170.70" y="519.00" width="8.60" height="30.60" fill="#fff" stroke="#000" stroke-width="1"/>
<rect x="201.40" y="518.50" width="5.50" height="31.10" fill="#000"/>
<rect x="195.10" y="529.80" width="6.10" height="19.80" fill="#fff" stroke="#000" stroke-width="1"/>
<rect x="225.20" y="538.70" width="5.80" height="10.90" fill="#000"/>
<rect x="218.20" y="539.20" width="6.80" height="10.40" fill="#fff" stroke="#000" stroke-width="1"/>
<rect x="247.30" y="538.70" width="6.80" height="10.90" fill="#000"/>
<rect x="242.60" y="519.00" width="4.50" height="30.60" fill="#fff" stroke="#000" stroke-width="1"/>
<rect x="269.20" y="538.70" width="8.80" height="10.90" fill="#000"/>
<rect x="262.90" y="539.20" width="6.10" height="10.40" fill="#fff" stroke="#000" stroke-width="1"/>
<rect x="262.40" y="538.70" width="2.6" height="10.90" fill="#000"/>
<rect x="287.30" y="507.30" width="6.30" height="42.30" fill="#fff" stroke="#000" stroke-width="1"/>
<rect x="308.60" y="519.00" width="8.10" height="30.60" fill="#fff" stroke="#000" stroke-width="1"/>
<rect x="337.60" y="430.60" width="8.10" height="119.00" fill="#000"/>
<rect x="331.90" y="507.30" width="5.50" height="42.30" fill="#fff" stroke="#000" stroke-width="1"/>
<rect x="362.30" y="474.50" width="6.70" height="75.10" fill="#000"/>
<rect x="354.50" y="485.00" width="7.60" height="64.60" fill="#fff" stroke="#000" stroke-width="1"/>
<rect x="384.10" y="529.30" width="7.60" height="20.30" fill="#000"/>
<rect x="376.60" y="529.80" width="7.30" height="19.80" fill="#fff" stroke="#000" stroke-width="1"/>
<rect x="376.10" y="529.30" width="2.6" height="20.30" fill="#000"/>
<rect x="407.20" y="518.50" width="9.60" height="31.10" fill="#000"/>
<rect x="399.70" y="529.80" width="7.30" height="19.80" fill="#fff" stroke="#000" stroke-width="1"/>
<rect x="432.60" y="529.30" width="6.00" height="20.30" fill="#000"/>
<rect x="423.60" y="485.00" width="8.80" height="64.60" fill="#fff" stroke="#000" stroke-width="1"/>
<rect x="454.40" y="506.80" width="4.90" height="42.80" fill="#000"/>
<rect x="447.90" y="495.80" width="6.30" height="53.80" fill="#fff" stroke="#000" stroke-width="1"/>
<rect x="476.50" y="484.50" width="5.40" height="65.10" fill="#000"/>
<rect x="470.50" y="495.80" width="5.80" height="53.80" fill="#fff" stroke="#000" stroke-width="1"/>
<rect x="491.70" y="519.00" width="6.90" height="30.60" fill="#fff" stroke="#000" stroke-width="1"/>
<rect x="523.10" y="538.70" width="6.70" height="10.90" fill="#000"/>
<rect x="515.60" y="529.80" width="7.30" height="19.80" fill="#fff" stroke="#000" stroke-width="1"/>
<rect x="515.10" y="529.30" width="2.6" height="20.30" fill="#000"/>
<rect x="544.40" y="484.50" width="6.90" height="65.10" fill="#000"/>
<rect x="538.80" y="495.80" width="5.40" height="53.80" fill="#fff" stroke="#000" stroke-width="1"/>
</g>
<g id="axisC" stroke="#000" stroke-width="1.1" fill="none">
<line x1="75.3" y1="418.8" x2="75.3" y2="550.2"/>
<line x1="75.3" y1="549.8" x2="557" y2="549.8" stroke-width="1.3"/>
<line x1="97.65" y1="549.8" x2="97.65" y2="547.2" stroke-width="1.2"/>
<line x1="120.60" y1="549.8" x2="120.60" y2="547.2" stroke-width="1.2"/>
<line x1="143.55" y1="549.8" x2="143.55" y2="547.2" stroke-width="1.2"/>
<line x1="166.50" y1="549.8" x2="166.50" y2="547.2" stroke-width="1.2"/>
<line x1="189.45" y1="549.8" x2="189.45" y2="547.2" stroke-width="1.2"/>
<line x1="212.40" y1="549.8" x2="212.40" y2="547.2" stroke-width="1.2"/>
<line x1="235.35" y1="549.8" x2="235.35" y2="547.2" stroke-width="1.2"/>
<line x1="258.30" y1="549.8" x2="258.30" y2="547.2" stroke-width="1.2"/>
<line x1="281.25" y1="549.8" x2="281.25" y2="547.2" stroke-width="1.2"/>
<line x1="304.20" y1="549.8" x2="304.20" y2="547.2" stroke-width="1.2"/>
<line x1="327.15" y1="549.8" x2="327.15" y2="547.2" stroke-width="1.2"/>
<line x1="350.10" y1="549.8" x2="350.10" y2="547.2" stroke-width="1.2"/>
<line x1="373.05" y1="549.8" x2="373.05" y2="547.2" stroke-width="1.2"/>
<line x1="396.00" y1="549.8" x2="396.00" y2="547.2" stroke-width="1.2"/>
<line x1="418.95" y1="549.8" x2="418.95" y2="547.2" stroke-width="1.2"/>
<line x1="441.90" y1="549.8" x2="441.90" y2="547.2" stroke-width="1.2"/>
<line x1="464.85" y1="549.8" x2="464.85" y2="547.2" stroke-width="1.2"/>
<line x1="487.80" y1="549.8" x2="487.80" y2="547.2" stroke-width="1.2"/>
<line x1="510.75" y1="549.8" x2="510.75" y2="547.2" stroke-width="1.2"/>
<line x1="533.70" y1="549.8" x2="533.70" y2="547.2" stroke-width="1.2"/>
<line x1="75.3" y1="419.3" x2="79.1" y2="419.3"/>
<line x1="75.3" y1="440" x2="79.1" y2="440"/>
<line x1="75.3" y1="462.9" x2="79.1" y2="462.9"/>
<line x1="75.3" y1="485.3" x2="79.1" y2="485.3"/>
<line x1="75.3" y1="507.3" x2="79.1" y2="507.3"/>
<line x1="75.3" y1="529.4" x2="79.1" y2="529.4"/>
<line x1="75.3" y1="549.9" x2="79.1" y2="549.9"/>
</g>
<text class="sans" x="69.9" y="423.8" font-size="12" text-anchor="end">12</text>
<text class="sans" x="69.9" y="444.5" font-size="12" text-anchor="end">10</text>
<text class="sans" x="69.9" y="467.4" font-size="12" text-anchor="end">8</text>
<text class="sans" x="69.9" y="489.8" font-size="12" text-anchor="end">6</text>
<text class="sans" x="69.9" y="511.8" font-size="12" text-anchor="end">4</text>
<text class="sans" x="69.9" y="533.9" font-size="12" text-anchor="end">2</text>
<text class="sans" x="69.9" y="554.4" font-size="12" text-anchor="end">0</text>
<rect x="103.5" y="431.4" width="9" height="8.8" fill="#000"/>
<rect x="104.5" y="432.4" width="5" height="5.6" fill="#fff"/>
<rect x="103.5" y="448.5" width="9" height="8.8" fill="#000"/>
<text class="bs" x="117.3" y="441.6" font-size="12" textLength="19.3" lengthAdjust="spacingAndGlyphs">WJ</text>
<text class="bs" x="117.3" y="457.8" font-size="12" textLength="20.8" lengthAdjust="spacingAndGlyphs">WY</text>
<text class="sans xl" transform="translate(89.50,560) rotate(-90)" font-size="12.1" text-anchor="end" textLength="86.5" lengthAdjust="spacingAndGlyphs">GPC and WGC</text>
<text class="sans xl" transform="translate(112.58,560) rotate(-90)" font-size="12.1" text-anchor="end">GPC and FW</text>
<text class="sans xl" transform="translate(135.66,560) rotate(-90)" font-size="12.1" text-anchor="end">GPC and KH</text>
<text class="sans xl" transform="translate(158.74,560) rotate(-90)" font-size="12.1" text-anchor="end">GPC and Abs</text>
<text class="sans xl" transform="translate(181.82,560) rotate(-90)" font-size="12.1" text-anchor="end">GPC and DDT</text>
<text class="sans xl" transform="translate(204.90,560) rotate(-90)" font-size="12.1" text-anchor="end">GPC and DST</text>
<text class="sans xl" transform="translate(227.98,560) rotate(-90)" font-size="12.1" text-anchor="end">WGC and FW</text>
<text class="sans xl" transform="translate(251.06,560) rotate(-90)" font-size="12.1" text-anchor="end">WGC and KH</text>
<text class="sans xl" transform="translate(274.14,560) rotate(-90)" font-size="12.1" text-anchor="end">WGC and Abs</text>
<text class="sans xl" transform="translate(297.22,560) rotate(-90)" font-size="12.1" text-anchor="end">WGC and DDT</text>
<text class="sans xl" transform="translate(320.30,560) rotate(-90)" font-size="12.1" text-anchor="end">WGC and DST</text>
<text class="sans xl" transform="translate(343.38,560) rotate(-90)" font-size="12.1" text-anchor="end">FW and KH</text>
<text class="sans xl" transform="translate(366.46,560) rotate(-90)" font-size="12.1" text-anchor="end">FW and Abs</text>
<text class="sans xl" transform="translate(389.54,560) rotate(-90)" font-size="12.1" text-anchor="end">FW and DDT</text>
<text class="sans xl" transform="translate(412.62,560) rotate(-90)" font-size="12.1" text-anchor="end">FW and DST</text>
<text class="sans xl" transform="translate(435.70,560) rotate(-90)" font-size="12.1" text-anchor="end">KH and Abs</text>
<text class="sans xl" transform="translate(458.78,560) rotate(-90)" font-size="12.1" text-anchor="end">KH and DDT</text>
<text class="sans xl" transform="translate(481.86,560) rotate(-90)" font-size="12.1" text-anchor="end">KH and DST</text>
<text class="sans xl" transform="translate(504.94,560) rotate(-90)" font-size="12.1" text-anchor="end">Abs and DDT</text>
<text class="sans xl" transform="translate(528.02,560) rotate(-90)" font-size="12.1" text-anchor="end">Abs and DST</text>
<text class="sans xl" transform="translate(551.10,560) rotate(-90)" font-size="12.1" text-anchor="end">DDT and DST</text>
</svg></body></html>
